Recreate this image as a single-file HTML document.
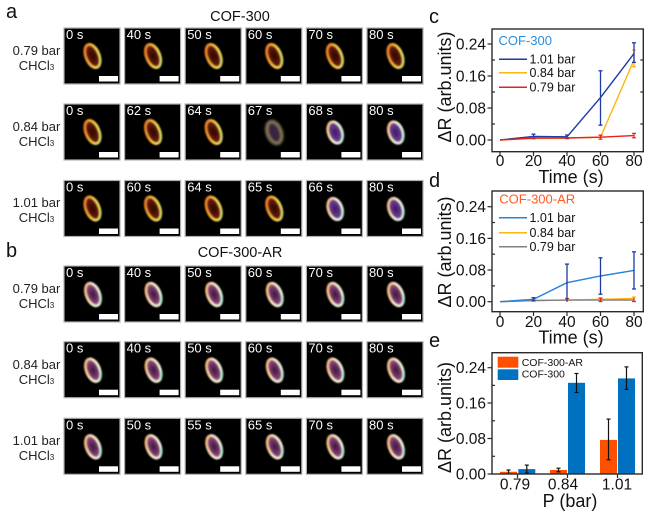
<!DOCTYPE html>
<html><head><meta charset="utf-8"><style>
html,body{margin:0;padding:0;background:#fff;}
svg{display:block;font-family:"Liberation Sans",Arial,sans-serif;}
</style></head><body>
<svg width="651" height="515" viewBox="0 0 651 515" xmlns="http://www.w3.org/2000/svg" font-family="Liberation Sans, Arial, sans-serif">
<defs>
  <filter id="bl" x="-50%" y="-50%" width="200%" height="200%"><feGaussianBlur stdDeviation="0.7"/></filter>
  <filter id="bl2" x="-50%" y="-50%" width="200%" height="200%"><feGaussianBlur stdDeviation="1.3"/></filter>
  <linearGradient id="sO" x1="0" y1="0.1" x2="1" y2="1">
    <stop offset="0" stop-color="#e86a20"/><stop offset="0.35" stop-color="#f2b030"/>
    <stop offset="0.62" stop-color="#f0d850"/><stop offset="0.85" stop-color="#d8d060"/><stop offset="1" stop-color="#30c0a8"/>
  </linearGradient>
  <radialGradient id="fO"><stop offset="0" stop-color="#2a0804"/><stop offset="0.7" stop-color="#601808"/><stop offset="1" stop-color="#a03010"/></radialGradient>
  <linearGradient id="sP" x1="0" y1="0.1" x2="1" y2="1">
    <stop offset="0" stop-color="#f0b070"/><stop offset="0.45" stop-color="#f4eed8"/>
    <stop offset="0.8" stop-color="#d8f0d8"/><stop offset="1" stop-color="#30c0a0"/>
  </linearGradient>
  <radialGradient id="fP"><stop offset="0" stop-color="#3a1a60"/><stop offset="0.7" stop-color="#6a3a90"/><stop offset="1" stop-color="#a06098"/></radialGradient>
  <linearGradient id="sA" x1="0" y1="0.1" x2="1" y2="1">
    <stop offset="0" stop-color="#f0a860"/><stop offset="0.4" stop-color="#f8e8c8"/>
    <stop offset="0.78" stop-color="#e8f0d8"/><stop offset="1" stop-color="#20c0a8"/>
  </linearGradient>
  <radialGradient id="fA"><stop offset="0" stop-color="#3a1838"/><stop offset="0.65" stop-color="#7a3a70"/><stop offset="1" stop-color="#c07090"/></radialGradient>
  <g id="pO"><ellipse cx="0" cy="0" rx="6.8" ry="12.3" transform="translate(28.5,28) rotate(-22)" fill="url(#fO)" stroke="url(#sO)" stroke-width="2.6" filter="url(#bl)"/></g>
  <g id="pP"><ellipse cx="0" cy="0" rx="7" ry="11.2" transform="translate(28.8,28.5) rotate(-20)" fill="url(#fP)" stroke="url(#sP)" stroke-width="2.6" filter="url(#bl)"/></g>
  <g id="pB"><ellipse cx="0" cy="0" rx="7" ry="11.5" transform="translate(28.5,28.5) rotate(-20)" fill="#3a2040" stroke="#8a8058" stroke-width="3" filter="url(#bl2)"/></g>
  <g id="pA"><ellipse cx="0" cy="0" rx="6.8" ry="12" transform="translate(29,28.5) rotate(-22)" fill="url(#fA)" stroke="url(#sA)" stroke-width="2.6" filter="url(#bl)"/></g>
  <g id="tile"><rect x="0" y="0" width="56" height="56" fill="#000" stroke="#b0b0b0" stroke-width="1.2"/></g>
  <g id="sb"><rect x="35" y="48" width="19" height="5.5" fill="#fff"/></g>
</defs>

<!-- panel labels -->
<g font-size="20" fill="#111">
<text x="6" y="18">a</text>
<text x="6" y="257">b</text>
<text x="429" y="23">c</text>
<text x="429" y="187">d</text>
<text x="429" y="347">e</text>
</g>
<g font-size="14.5" fill="#111" text-anchor="middle">
<text x="240" y="21">COF-300</text>
<text x="240" y="257">COF-300-AR</text>
</g>

<!-- row labels -->
<g font-size="13" fill="#222" text-anchor="middle">
<text x="36.5" y="55">0.79 bar</text><text x="36.5" y="70">CHCl<tspan font-size="8">3</tspan></text>
<text x="36.5" y="131">0.84 bar</text><text x="36.5" y="146">CHCl<tspan font-size="8">3</tspan></text>
<text x="36.5" y="207">1.01 bar</text><text x="36.5" y="222">CHCl<tspan font-size="8">3</tspan></text>
<text x="36.5" y="293">0.79 bar</text><text x="36.5" y="308">CHCl<tspan font-size="8">3</tspan></text>
<text x="36.5" y="369">0.84 bar</text><text x="36.5" y="384">CHCl<tspan font-size="8">3</tspan></text>
<text x="36.5" y="445">1.01 bar</text><text x="36.5" y="460">CHCl<tspan font-size="8">3</tspan></text>
</g>

<!-- tiles -->
<g font-size="13" fill="#fff">
<!-- row 1 -->
<g transform="translate(64,28)"><use href="#tile"/><use href="#pO"/><use href="#sb"/><text x="2" y="11">0 s</text></g>
<g transform="translate(124.6,28)"><use href="#tile"/><use href="#pO"/><use href="#sb"/><text x="2" y="11">40 s</text></g>
<g transform="translate(185.2,28)"><use href="#tile"/><use href="#pO"/><use href="#sb"/><text x="2" y="11">50 s</text></g>
<g transform="translate(245.8,28)"><use href="#tile"/><use href="#pO"/><use href="#sb"/><text x="2" y="11">60 s</text></g>
<g transform="translate(306.4,28)"><use href="#tile"/><use href="#pO"/><use href="#sb"/><text x="2" y="11">70 s</text></g>
<g transform="translate(367,28)"><use href="#tile"/><use href="#pO"/><use href="#sb"/><text x="2" y="11">80 s</text></g>
<!-- row 2 -->
<g transform="translate(64,104)"><use href="#tile"/><use href="#pO"/><use href="#sb"/><text x="2" y="11">0 s</text></g>
<g transform="translate(124.6,104)"><use href="#tile"/><use href="#pO"/><use href="#sb"/><text x="2" y="11">62 s</text></g>
<g transform="translate(185.2,104)"><use href="#tile"/><use href="#pO"/><use href="#sb"/><text x="2" y="11">64 s</text></g>
<g transform="translate(245.8,104)"><use href="#tile"/><use href="#pB"/><use href="#sb"/><text x="2" y="11">67 s</text></g>
<g transform="translate(306.4,104)"><use href="#tile"/><use href="#pP"/><use href="#sb"/><text x="2" y="11">68 s</text></g>
<g transform="translate(367,104)"><use href="#tile"/><use href="#pP"/><use href="#sb"/><text x="2" y="11">80 s</text></g>
<!-- row 3 -->
<g transform="translate(64,180.5)"><use href="#tile"/><use href="#pO"/><use href="#sb"/><text x="2" y="11">0 s</text></g>
<g transform="translate(124.6,180.5)"><use href="#tile"/><use href="#pO"/><use href="#sb"/><text x="2" y="11">60 s</text></g>
<g transform="translate(185.2,180.5)"><use href="#tile"/><use href="#pO"/><use href="#sb"/><text x="2" y="11">64 s</text></g>
<g transform="translate(245.8,180.5)"><use href="#tile"/><use href="#pO"/><use href="#sb"/><text x="2" y="11">65 s</text></g>
<g transform="translate(306.4,180.5)"><use href="#tile"/><use href="#pP"/><use href="#sb"/><text x="2" y="11">66 s</text></g>
<g transform="translate(367,180.5)"><use href="#tile"/><use href="#pP"/><use href="#sb"/><text x="2" y="11">80 s</text></g>
<!-- row 4 -->
<g transform="translate(64,266)"><use href="#tile"/><use href="#pA"/><use href="#sb"/><text x="2" y="11">0 s</text></g>
<g transform="translate(124.6,266)"><use href="#tile"/><use href="#pA"/><use href="#sb"/><text x="2" y="11">40 s</text></g>
<g transform="translate(185.2,266)"><use href="#tile"/><use href="#pA"/><use href="#sb"/><text x="2" y="11">50 s</text></g>
<g transform="translate(245.8,266)"><use href="#tile"/><use href="#pA"/><use href="#sb"/><text x="2" y="11">60 s</text></g>
<g transform="translate(306.4,266)"><use href="#tile"/><use href="#pA"/><use href="#sb"/><text x="2" y="11">70 s</text></g>
<g transform="translate(367,266)"><use href="#tile"/><use href="#pA"/><use href="#sb"/><text x="2" y="11">80 s</text></g>
<!-- row 5 -->
<g transform="translate(64,341.7)"><use href="#tile"/><use href="#pA"/><use href="#sb"/><text x="2" y="11">0 s</text></g>
<g transform="translate(124.6,341.7)"><use href="#tile"/><use href="#pA"/><use href="#sb"/><text x="2" y="11">40 s</text></g>
<g transform="translate(185.2,341.7)"><use href="#tile"/><use href="#pA"/><use href="#sb"/><text x="2" y="11">50 s</text></g>
<g transform="translate(245.8,341.7)"><use href="#tile"/><use href="#pA"/><use href="#sb"/><text x="2" y="11">60 s</text></g>
<g transform="translate(306.4,341.7)"><use href="#tile"/><use href="#pA"/><use href="#sb"/><text x="2" y="11">70 s</text></g>
<g transform="translate(367,341.7)"><use href="#tile"/><use href="#pA"/><use href="#sb"/><text x="2" y="11">80 s</text></g>
<!-- row 6 -->
<g transform="translate(64,418.3)"><use href="#tile"/><use href="#pA"/><use href="#sb"/><text x="2" y="11">0 s</text></g>
<g transform="translate(124.6,418.3)"><use href="#tile"/><use href="#pA"/><use href="#sb"/><text x="2" y="11">50 s</text></g>
<g transform="translate(185.2,418.3)"><use href="#tile"/><use href="#pA"/><use href="#sb"/><text x="2" y="11">55 s</text></g>
<g transform="translate(245.8,418.3)"><use href="#tile"/><use href="#pA"/><use href="#sb"/><text x="2" y="11">65 s</text></g>
<g transform="translate(306.4,418.3)"><use href="#tile"/><use href="#pA"/><use href="#sb"/><text x="2" y="11">70 s</text></g>
<g transform="translate(367,418.3)"><use href="#tile"/><use href="#pA"/><use href="#sb"/><text x="2" y="11">80 s</text></g>
</g>

<!-- ============ Panel c ============ -->
<g>
<rect x="492" y="29" width="151.3" height="122.7" fill="none" stroke="#2a2a2a" stroke-width="1.4"/>
<g stroke="#2a2a2a" stroke-width="1.2">
  <line x1="487.5" y1="44" x2="492" y2="44"/><line x1="487.5" y1="76" x2="492" y2="76"/>
  <line x1="487.5" y1="108" x2="492" y2="108"/><line x1="487.5" y1="140" x2="492" y2="140"/>
  <line x1="492" y1="60" x2="495" y2="60"/><line x1="492" y1="92" x2="495" y2="92"/><line x1="492" y1="124" x2="495" y2="124"/>
  <line x1="643.3" y1="60" x2="640.3" y2="60"/><line x1="643.3" y1="92" x2="640.3" y2="92"/><line x1="643.3" y1="124" x2="640.3" y2="124"/>
  <line x1="500" y1="151.7" x2="500" y2="156"/><line x1="533.5" y1="151.7" x2="533.5" y2="156"/>
  <line x1="567" y1="151.7" x2="567" y2="156"/><line x1="600.5" y1="151.7" x2="600.5" y2="156"/><line x1="634" y1="151.7" x2="634" y2="156"/>
</g>
<g font-size="15.5" fill="#111" text-anchor="end">
  <text x="486" y="49.5">0.24</text><text x="486" y="81.5">0.16</text><text x="486" y="113.5">0.08</text><text x="486" y="145.5">0.00</text>
</g>
<g font-size="15.5" fill="#111" text-anchor="middle">
  <text x="500" y="166">0</text><text x="533.5" y="166">20</text><text x="567" y="166">40</text><text x="600.5" y="166">60</text><text x="634" y="166">80</text>
</g>
<text x="571" y="183" font-size="18" fill="#111" text-anchor="middle">Time (s)</text>
<text transform="translate(451,87) rotate(-90)" font-size="18" fill="#111" text-anchor="middle">ΔR (arb.units)</text>
<!-- series -->
<polyline points="500,140 533.5,138.4 567,138 600.5,137.2 634,60" fill="none" stroke="#ffb414" stroke-width="1.4"/>
<g stroke="#ffb414" stroke-width="1.3"><line x1="634" y1="66.8" x2="634" y2="50"/><line x1="632" y1="66.8" x2="636" y2="66.8"/><line x1="632" y1="50" x2="636" y2="50"/>
<line x1="600.5" y1="135" x2="600.5" y2="139.5"/><line x1="598.5" y1="135" x2="602.5" y2="135"/></g>
<polyline points="500,140 533.5,136.4 567,136.8 600.5,97.6 634,53.6" fill="none" stroke="#1c3aa8" stroke-width="1.4"/>
<g stroke="#1c3aa8" stroke-width="1.3">
  <line x1="533.5" y1="134.2" x2="533.5" y2="138.6"/><line x1="531.5" y1="134.2" x2="535.5" y2="134.2"/><line x1="531.5" y1="138.6" x2="535.5" y2="138.6"/>
  <line x1="567" y1="135" x2="567" y2="138.6"/><line x1="565" y1="135" x2="569" y2="135"/><line x1="565" y1="138.6" x2="569" y2="138.6"/>
  <line x1="600.5" y1="70.8" x2="600.5" y2="125.2"/><line x1="598.5" y1="70.8" x2="602.5" y2="70.8"/><line x1="598.5" y1="125.2" x2="602.5" y2="125.2"/>
  <line x1="634" y1="42.8" x2="634" y2="62.4"/><line x1="632" y1="42.8" x2="636" y2="42.8"/><line x1="632" y1="62.4" x2="636" y2="62.4"/>
</g>
<polyline points="500,140 533.5,138 567,138 600.5,137.2 634,135.6" fill="none" stroke="#e82020" stroke-width="1.4"/>
<g stroke="#e82020" stroke-width="1.2">
  <line x1="600.5" y1="135.2" x2="600.5" y2="139.2"/><line x1="598.5" y1="135.2" x2="602.5" y2="135.2"/><line x1="598.5" y1="139.2" x2="602.5" y2="139.2"/>
  <line x1="634" y1="133.4" x2="634" y2="137.8"/><line x1="632" y1="133.4" x2="636" y2="133.4"/><line x1="632" y1="137.8" x2="636" y2="137.8"/>
</g>
<!-- legend -->
<text x="498.5" y="45" font-size="13" fill="#2a8ee0">COF-300</text>
<line x1="499" y1="59.3" x2="527" y2="59.3" stroke="#1c3aa8" stroke-width="1.5"/>
<line x1="499" y1="72.7" x2="527" y2="72.7" stroke="#ffb414" stroke-width="1.5"/>
<line x1="499" y1="87.3" x2="527" y2="87.3" stroke="#e82020" stroke-width="1.5"/>
<g font-size="12.5" fill="#111"><text x="529.5" y="63.7">1.01 bar</text><text x="529.5" y="77.1">0.84 bar</text><text x="529.5" y="91.7">0.79 bar</text></g>
</g>

<!-- ============ Panel d ============ -->
<g>
<rect x="492" y="191" width="151.3" height="120.7" fill="none" stroke="#2a2a2a" stroke-width="1.4"/>
<g stroke="#2a2a2a" stroke-width="1.2">
  <line x1="487.5" y1="206.7" x2="492" y2="206.7"/><line x1="487.5" y1="238.4" x2="492" y2="238.4"/>
  <line x1="487.5" y1="270" x2="492" y2="270"/><line x1="487.5" y1="301.7" x2="492" y2="301.7"/>
  <line x1="492" y1="222.5" x2="495" y2="222.5"/><line x1="492" y1="254.2" x2="495" y2="254.2"/><line x1="492" y1="285.9" x2="495" y2="285.9"/>
  <line x1="643.3" y1="222.5" x2="640.3" y2="222.5"/><line x1="643.3" y1="254.2" x2="640.3" y2="254.2"/><line x1="643.3" y1="285.9" x2="640.3" y2="285.9"/>
  <line x1="500" y1="311.7" x2="500" y2="316"/><line x1="533.5" y1="311.7" x2="533.5" y2="316"/>
  <line x1="567" y1="311.7" x2="567" y2="316"/><line x1="600.5" y1="311.7" x2="600.5" y2="316"/><line x1="634" y1="311.7" x2="634" y2="316"/>
</g>
<g font-size="15.5" fill="#111" text-anchor="end">
  <text x="486" y="212.2">0.24</text><text x="486" y="243.9">0.16</text><text x="486" y="275.5">0.08</text><text x="486" y="307.2">0.00</text>
</g>
<g font-size="15.5" fill="#111" text-anchor="middle">
  <text x="500" y="327">0</text><text x="533.5" y="327">20</text><text x="567" y="327">40</text><text x="600.5" y="327">60</text><text x="634" y="327">80</text>
</g>
<text x="571" y="343.5" font-size="18" fill="#111" text-anchor="middle">Time (s)</text>
<text transform="translate(451,252) rotate(-90)" font-size="18" fill="#111" text-anchor="middle">ΔR (arb.units)</text>
<polyline points="500,301.7 533.5,300.5 567,300.1 600.5,299.3 634,298.5" fill="none" stroke="#ffb414" stroke-width="1.4"/>
<polyline points="500,301.7 533.5,300.5 567,300.1 600.5,300.1 634,300.1" fill="none" stroke="#808080" stroke-width="1.4"/>
<g stroke="#e82020" stroke-width="1.2">
  <line x1="567" y1="298.5" x2="567" y2="301.7"/><line x1="565" y1="298.5" x2="569" y2="298.5"/>
  <line x1="600.5" y1="298" x2="600.5" y2="301.7"/><line x1="598.5" y1="298" x2="602.5" y2="298"/><line x1="598.5" y1="301.5" x2="602.5" y2="301.5"/>
  <line x1="634" y1="297.5" x2="634" y2="301.7"/><line x1="632" y1="301.5" x2="636" y2="301.5"/>
</g>
<g stroke="#ffb414" stroke-width="1.2"><line x1="632" y1="297" x2="636" y2="297"/></g>
<polyline points="500,301.7 533.5,299.3 567,282.7 600.5,276 634,270.4" fill="none" stroke="#2a82dc" stroke-width="1.4"/>
<g stroke="#1c3aa0" stroke-width="1.3">
  <line x1="533.5" y1="297.7" x2="533.5" y2="300.9"/><line x1="531.5" y1="297.7" x2="535.5" y2="297.7"/><line x1="531.5" y1="300.9" x2="535.5" y2="300.9"/>
  <line x1="567" y1="264.1" x2="567" y2="301.7"/><line x1="565" y1="264.1" x2="569" y2="264.1"/>
  <line x1="600.5" y1="257.8" x2="600.5" y2="294.2"/><line x1="598.5" y1="257.8" x2="602.5" y2="257.8"/><line x1="598.5" y1="294.2" x2="602.5" y2="294.2"/>
  <line x1="634" y1="251.8" x2="634" y2="289"/><line x1="632" y1="251.8" x2="636" y2="251.8"/><line x1="632" y1="289" x2="636" y2="289"/>
</g>
<text x="499.3" y="203.3" font-size="13" fill="#ff5a20">COF-300-AR</text>
<line x1="499" y1="217.7" x2="527" y2="217.7" stroke="#2a82dc" stroke-width="1.5"/>
<line x1="499" y1="232.7" x2="527" y2="232.7" stroke="#ffb414" stroke-width="1.5"/>
<line x1="499" y1="246.7" x2="527" y2="246.7" stroke="#808080" stroke-width="1.5"/>
<g font-size="12.5" fill="#111"><text x="529.5" y="222.1">1.01 bar</text><text x="529.5" y="237.1">0.84 bar</text><text x="529.5" y="251.1">0.79 bar</text></g>
</g>

<!-- ============ Panel e ============ -->
<g>
<rect x="500" y="471.8" width="17" height="2.2" fill="#ff5000"/>
<rect x="518.3" y="469.1" width="17" height="4.9" fill="#0070c0"/>
<rect x="550" y="470" width="17" height="4" fill="#ff5000"/>
<rect x="568" y="382.8" width="17" height="91.2" fill="#0070c0"/>
<rect x="600" y="439.9" width="17" height="34.1" fill="#ff5000"/>
<rect x="618" y="378.4" width="17" height="95.6" fill="#0070c0"/>
<g stroke="#111" stroke-width="1.2">
  <line x1="508.5" y1="470" x2="508.5" y2="473.6"/><line x1="506.5" y1="470" x2="510.5" y2="470"/>
  <line x1="526.8" y1="465.1" x2="526.8" y2="473.1"/><line x1="524.8" y1="465.1" x2="528.8" y2="465.1"/><line x1="524.8" y1="473.1" x2="528.8" y2="473.1"/>
  <line x1="558.5" y1="468.2" x2="558.5" y2="471.8"/><line x1="556.5" y1="468.2" x2="560.5" y2="468.2"/><line x1="556.5" y1="471.8" x2="560.5" y2="471.8"/>
  <line x1="576.5" y1="373.5" x2="576.5" y2="392.5"/><line x1="574.5" y1="373.5" x2="578.5" y2="373.5"/><line x1="574.5" y1="392.5" x2="578.5" y2="392.5"/>
  <line x1="608.5" y1="419.1" x2="608.5" y2="459.8"/><line x1="606.5" y1="419.1" x2="610.5" y2="419.1"/><line x1="606.5" y1="459.8" x2="610.5" y2="459.8"/>
  <line x1="626.5" y1="366.9" x2="626.5" y2="389.4"/><line x1="624.5" y1="366.9" x2="628.5" y2="366.9"/><line x1="624.5" y1="389.4" x2="628.5" y2="389.4"/>
</g>
<rect x="492" y="352.7" width="150.3" height="121.3" fill="none" stroke="#2a2a2a" stroke-width="1.4"/>
<g stroke="#2a2a2a" stroke-width="1.2">
  <line x1="487.5" y1="367.7" x2="492" y2="367.7"/><line x1="487.5" y1="403" x2="492" y2="403"/>
  <line x1="487.5" y1="438.5" x2="492" y2="438.5"/><line x1="487.5" y1="474" x2="492" y2="474"/>
  <line x1="492" y1="385.4" x2="495" y2="385.4"/><line x1="492" y1="420.8" x2="495" y2="420.8"/><line x1="492" y1="456.3" x2="495" y2="456.3"/>
  <line x1="517.5" y1="474" x2="517.5" y2="478"/><line x1="567.5" y1="474" x2="567.5" y2="478"/><line x1="617.5" y1="474" x2="617.5" y2="478"/>
</g>
<g font-size="15.5" fill="#111" text-anchor="end">
  <text x="486" y="373.2">0.24</text><text x="486" y="408.5">0.16</text><text x="486" y="444">0.08</text><text x="486" y="479.5">0.00</text>
</g>
<g font-size="15.5" fill="#111" text-anchor="middle">
  <text x="515" y="489.5">0.79</text><text x="563" y="489.5">0.84</text><text x="617" y="489.5">1.01</text>
</g>
<text x="570" y="507" font-size="18" fill="#111" text-anchor="middle">P (bar)</text>
<text transform="translate(451,417.5) rotate(-90)" font-size="18" fill="#111" text-anchor="middle">ΔR (arb.units)</text>
<rect x="497.7" y="356.7" width="20.6" height="11" fill="#ff5000"/>
<rect x="497.7" y="369.3" width="20.6" height="10.7" fill="#0070c0"/>
<g font-size="10.5" fill="#111"><text x="521.7" y="366">COF-300-AR</text><text x="521.7" y="377.7">COF-300</text></g>
</g>
</svg>
</body></html>
